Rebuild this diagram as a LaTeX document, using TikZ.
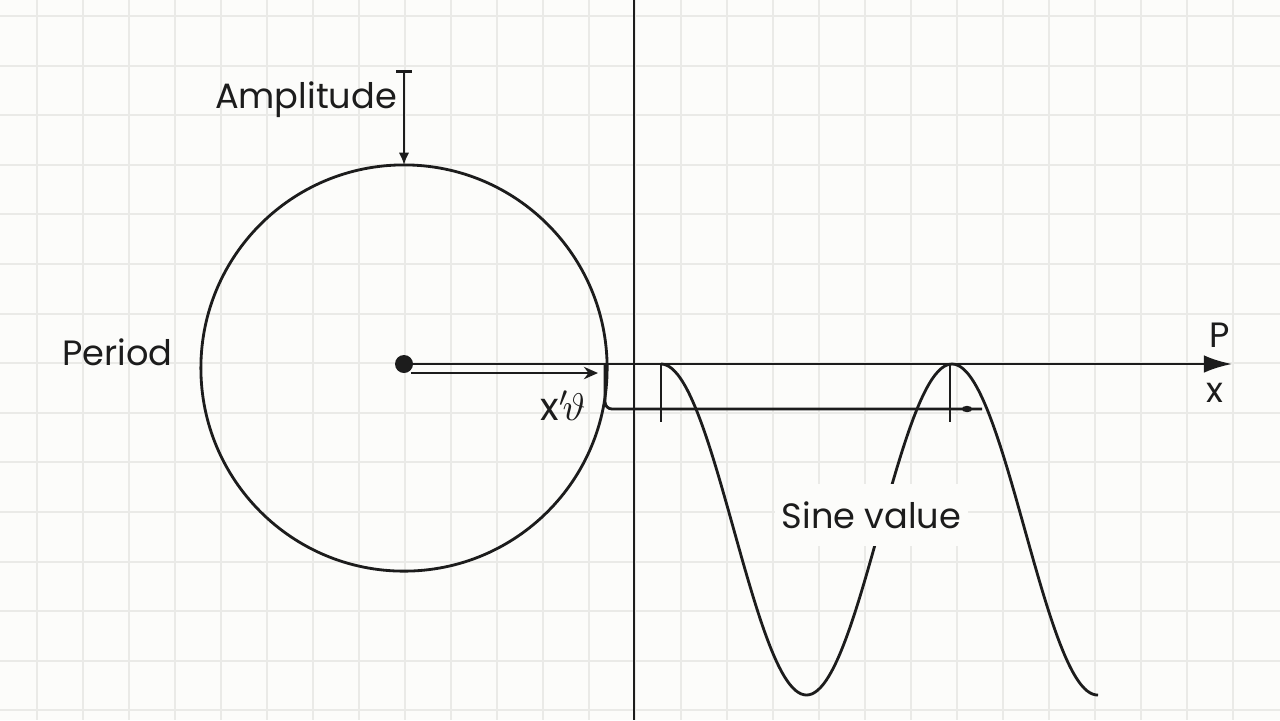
\documentclass[tikz,border=0pt]{standalone}
\usepackage{fontspec}
\setmainfont{Poppins}
\usetikzlibrary{arrows.meta}
\definecolor{carta}{HTML}{FCFCFA}
\definecolor{griglia}{HTML}{EAEAE7}
\definecolor{tratto}{HTML}{1C1C1C}

\begin{document}
\begin{tikzpicture}[x=0.01cm, y=-0.01cm, line width=0.8pt, draw=tratto,
  etichetta/.style={font=\fontsize{10}{12}\selectfont, text=tratto, inner sep=0pt, anchor=base}]

  % Parametri del disegno (in pixel)
  \def\raggio{2.03cm} % Raggio della circonferenza
  \def\periodo{291}   % Periodo della sinusoide
  \def\ampiezza{165.5} % Ampiezza della sinusoide
  \def\asse{529.5}    % Linea media della sinusoide
  \def\inizio{661}    % Primo massimo

  % Foglio e griglia
  \fill[carta] (0,0) rectangle (1280,720);
  \useasboundingbox (0,0) rectangle (1280,720);
  \foreach \i in {0,...,26}
    \draw[griglia, line width=0.55pt] ({37+46*\i},0) -- ({37+46*\i},720);
  \foreach \j in {0,...,14}
    \draw[griglia, line width=0.55pt] (0,{16+49.6*\j}) -- (1280,{16+49.6*\j});

  % Punti principali
  \coordinate (O) at (404,364);   % Centro del punto
  \coordinate (C) at (404,368);   % Centro della circonferenza
  \coordinate (T) at (404,165);   % Sommita della circonferenza
  \coordinate (A0) at (404,70);   % Inizio freccia ampiezza
  \coordinate (E) at (1232,364);  % Punta dell'asse x
  \coordinate (R1) at (411,373);
  \coordinate (R2) at (598,373);
  \coordinate (Y0) at (634,0);
  \coordinate (Y1) at (634,720);
  \coordinate (H0) at (605,364);
  \coordinate (H1) at (605,409);
  \coordinate (H2) at (982,409);
  \coordinate (M) at (967,409);
  \coordinate (K0) at (661,364);
  \coordinate (K1) at (661,422);
  \coordinate (L0) at (950,364);
  \coordinate (L1) at (950,422);

  % Circonferenza
  \draw (C) circle[radius=\raggio];

  % Asse verticale
  \draw (Y0) -- (Y1);

  % Asse orizzontale e raggio
  \draw[-{Latex[length=8pt,width=5pt]}] (O) -- (E);
  \draw[-{Stealth[length=4pt,width=3.5pt]}] (R1) -- (R2);

  % Freccia dell'ampiezza
  \draw[{Bar[width=4.5pt]}-{Latex[length=3.5pt,width=3pt]}] (A0) -- (T);

  % Quota sotto l'asse
  \draw[rounded corners=2pt] (H0) -- (H1) -- (H2);
  \fill[tratto] (M) ellipse[x radius=1.5pt, y radius=0.9pt];
  \draw (K0) -- (K1);
  \draw (L0) -- (L1);

  % Sinusoide
  \draw plot[domain=\inizio:1098, samples=160, smooth]
    (\x,{\asse-\ampiezza*cos(360/\periodo*(\x-\inizio))});

  % Punto centrale
  \fill[tratto] (O) circle[radius=0.09cm];

  % Etichette
  \node[etichetta] (amp) at (306,108) {Amplitude};
  \node[etichetta] (per) at (117.5,365) {Period};
  \node[etichetta, fill=carta, inner xsep=2pt, inner ysep=5pt] (sin) at (871.5,528) {Sine value};
  \node[etichetta] (P) at (1220,347) {P};
  \node[etichetta] (xax) at (1215,402) {x};
  \node[etichetta, font=\fontsize{11}{13}\selectfont] (xp) at (563,420) {x$'\!\vartheta$};

\end{tikzpicture}
\end{document}
